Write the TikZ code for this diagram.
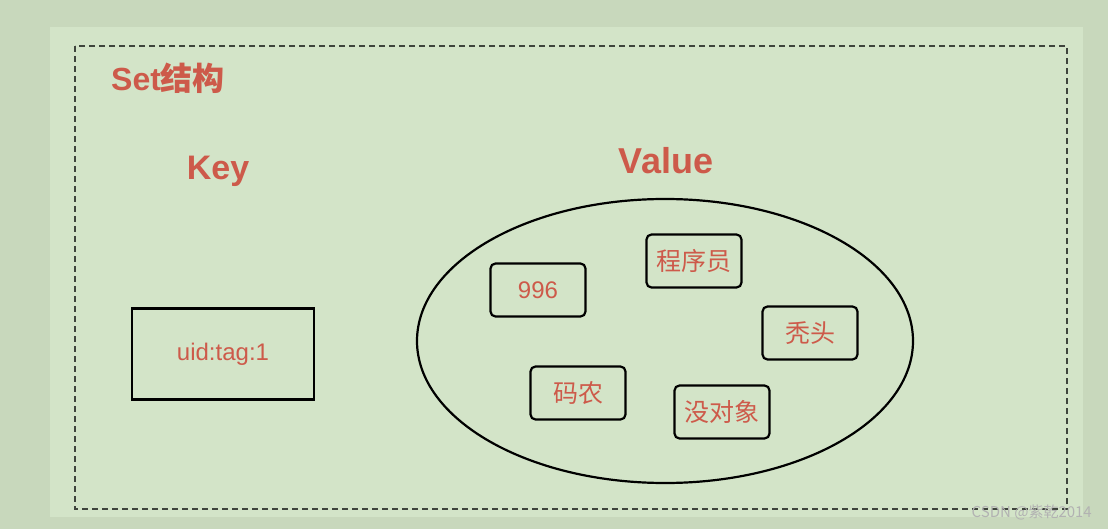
\documentclass[tikz,border=0pt]{standalone}
\usepackage{fontspec}
\setmainfont{Liberation Sans}
\newfontfamily\cjk{Noto Sans CJK SC}
\begin{document}
\begin{tikzpicture}[x=1pt,y=-1pt,
  item/.style={draw=black, line width=2.2pt, rounded corners=5pt, minimum width=95pt, minimum height=53pt, inner sep=0pt, text=txtred, font=\cjk\fontsize{25}{29}\selectfont},
  title/.style={text=txtred, inner sep=0pt, font=\bfseries\fontsize{35}{40}\selectfont}]
\definecolor{bgout}{HTML}{C8D8BC}
\definecolor{bgin}{HTML}{D3E4C8}
\definecolor{txtred}{HTML}{CD5A4A}
\definecolor{dashc}{HTML}{3E443C}
\useasboundingbox (0,0) rectangle (1108,529);
\fill[bgout] (0,0) rectangle (1108,529);
\fill[bgin] (50,27) rectangle (1083,517);
\draw[dashc, line width=2pt, dash pattern=on 6pt off 4pt] (75,46) rectangle (1067,509);
\node[title, anchor=west, font=\bfseries\fontsize{32}{36}\selectfont] (settitle) at (111,78) {Set\cjk 结构};
\node[title, font=\bfseries\fontsize{34}{38}\selectfont] (key) at (218,171) {Key};
\node[title, font=\bfseries\fontsize{36}{40}\selectfont] (value) at (666,161) {Value};
\node[draw=black, line width=2.2pt, minimum width=182pt, minimum height=91pt, inner sep=0pt, text=txtred, font=\fontsize{24}{28}\selectfont] (kbox) at (223,354) {uid:tag:1};
\draw[black, line width=2.2pt] (665,341) ellipse [x radius=248, y radius=142];
\node[item, font=\fontsize{24}{28}\selectfont] (a) at (538,290) {996};
\node[item] (b) at (694,261) {程序员};
\node[item] (c) at (810,333) {秃头};
\node[item] (d) at (578,393) {码农};
\node[item] (e) at (722,412) {没对象};
\node[anchor=east, inner sep=0pt, text=white!70!black, font=\cjk\fontsize{15}{18}\selectfont] (csdn) at (1092,512) {CSDN @紫乾2014};
\end{tikzpicture}
\end{document}
